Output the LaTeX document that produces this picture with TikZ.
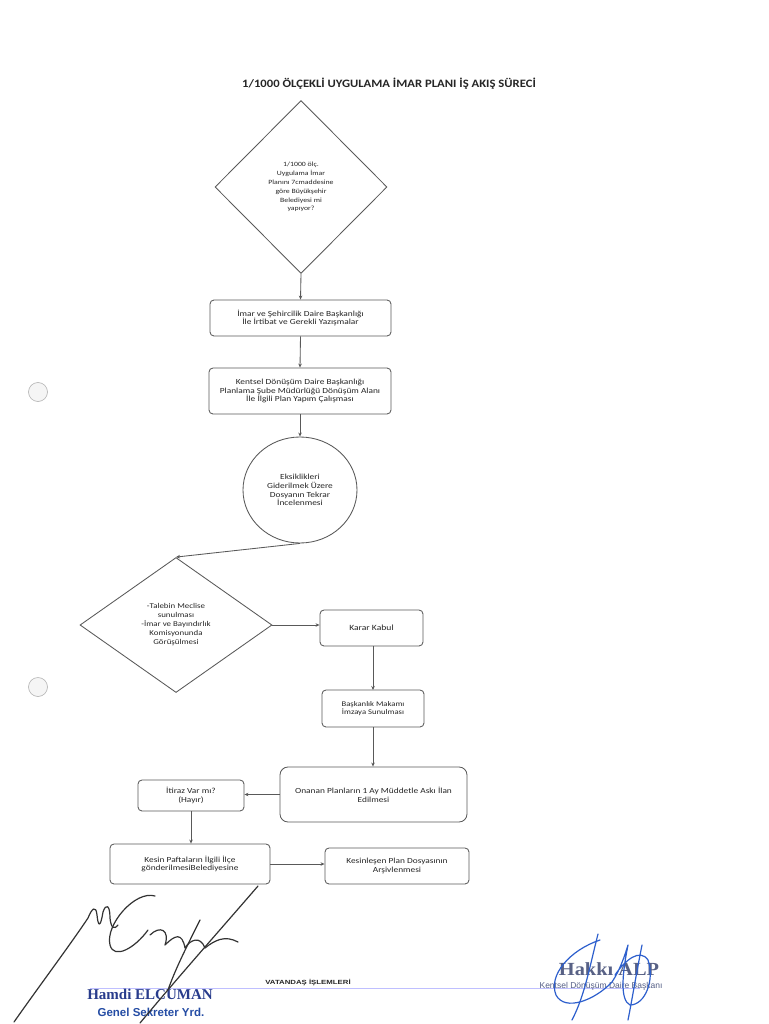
\documentclass[tikz,border=0pt]{standalone}
\usepackage{fontspec}
\setmainfont{Carlito}
\newfontfamily\wide[FakeStretch=1.2]{Carlito}
\newfontfamily\titlefont[FakeStretch=1.12]{Carlito}
\newfontfamily\serifname{Liberation Serif}
\newfontfamily\serifwide[FakeStretch=1.1]{Liberation Serif}
\newfontfamily\sansname{Liberation Sans}
\newfontfamily\sanswide[FakeStretch=1.3]{Liberation Sans}
\usetikzlibrary{shapes.geometric,arrows.meta}
\definecolor{ln}{gray}{0.35}
\definecolor{tx}{gray}{0.15}
\definecolor{navy}{RGB}{40,60,140}
\definecolor{sigblue}{RGB}{45,95,205}
\begin{document}
\begin{tikzpicture}[x=1pt,y=-1pt,
  every node/.style={text=tx},
  box/.style={draw=ln,line width=0.85pt,rounded corners=4pt,rectangle,align=center,inner sep=1pt,font=\wide\fontsize{7.8}{8.7}\selectfont},
  dia/.style={draw=ln,line width=0.85pt,diamond,align=center,inner sep=0pt,font=\wide\fontsize{6.5}{8.9}\selectfont},
  circ/.style={draw=ln,line width=0.85pt,ellipse,align=center,inner sep=0pt,font=\wide\fontsize{7.8}{8.7}\selectfont},
  arr/.style={draw=ln,line width=0.85pt,-{Stealth[length=4pt,width=3.5pt]}},
  sig/.style={line width=1.2pt,line cap=round,line join=round},
]
\useasboundingbox (0,0) rectangle (768,1024);
\fill[white] (0,0) rectangle (768,1024);
% punch holes
\draw[gray!60,fill=gray!8,line width=0.6pt] (38,392) circle (9.5);
\draw[gray!60,fill=gray!8,line width=0.6pt] (38,687) circle (9.5);

\node[font=\titlefont\bfseries\fontsize{11.3}{13}\selectfont] (title) at (389,84) {1/1000 ÖLÇEKLİ UYGULAMA İMAR PLANI İŞ AKIŞ SÜRECİ};

\node[dia,minimum width=172pt,minimum height=173pt] (d1) at (301,187)
  {1/1000 ölç.\\Uygulama İmar\\Planını 7cmaddesine\\göre Büyükşehir\\Belediyesi mi\\yapıyor?};
\node[box,minimum width=181pt,minimum height=36pt] (b1) at (300.5,318)
  {İmar ve Şehircilik Daire Başkanlığı\\İle İrtibat ve Gerekli Yazışmalar};
\node[box,minimum width=182pt,minimum height=46pt] (b2) at (300,391)
  {Kentsel Dönüşüm Daire Başkanlığı\\Planlama Şube Müdürlüğü Dönüşüm Alanı\\İle İlgili Plan Yapım Çalışması};
\node[circ,minimum width=114pt,minimum height=106pt] (c1) at (300,490)
  {Eksiklikleri\\Giderilmek Üzere\\Dosyanın Tekrar\\İncelenmesi};
\node[dia,minimum width=192pt,minimum height=135pt,font=\wide\fontsize{7.4}{9}\selectfont] (d2) at (176,625)
  {-Talebin Meclise\\sunulması\\-İmar ve Bayındırlık\\Komisyonunda\\Görüşülmesi};
\node[box,minimum width=103pt,minimum height=36pt,font=\wide\fontsize{8}{9}\selectfont] (kar) at (371.5,628) {Karar Kabul};
\node[box,minimum width=102pt,minimum height=37pt,font=\wide\fontsize{7.2}{8.7}\selectfont] (bas) at (373,708.5) {Başkanlık Makamı\\İmzaya Sunulması};
\node[box,rounded corners=8pt,minimum width=187pt,minimum height=55pt] (ona) at (373.5,794.5)
  {Onanan Planların 1 Ay Müddetle Askı İlan\\Edilmesi};
\node[box,minimum width=106pt,minimum height=31pt] (iti) at (191,795.5) {İtiraz Var mı?\\(Hayır)};
\node[box,minimum width=160pt,minimum height=40pt] (kes) at (190,864)
  {Kesin Paftaların İlgili İlçe\\gönderilmesiBelediyesine};
\node[box,minimum width=144pt,minimum height=36pt] (ksl) at (397,866)
  {Kesinleşen Plan Dosyasının\\Arşivlenmesi};

\draw[arr] (d1.south) -- (b1.north);
\draw[arr] (b1.south) -- (b2.north);
\draw[arr] (b2.south) -- (c1.north);
\draw[arr] (c1.south) -- (d2.north);
\draw[arr] (d2.east) -- (d2.east -| kar.west);
\draw[arr] (373,646) -- (373,690);
\draw[arr] (bas.south) -- (bas.south |- ona.north);
\draw[arr] (ona.west) -- (ona.west -| iti.east);
\draw[arr] (iti.south) -- (iti.south |- kes.north);
\draw[arr] (kes.east) -- (kes.east -| ksl.west);

% footer
\draw[blue!25,line width=0.5pt] (90,988) -- (640,988);
\node[font=\sanswide\bfseries\fontsize{6}{7}\selectfont] (foot) at (308,983) {VATANDAŞ İŞLEMLERİ};
\node[font=\serifname\bfseries\fontsize{15}{17}\selectfont,text=navy] (n1) at (150,994) {Hamdi ELCUMAN};
\node[font=\sansname\bfseries\fontsize{11.5}{13}\selectfont,text=sigblue!80!black] (t1) at (151,1012) {Genel Sekreter Yrd.};
\node[font=\serifwide\bfseries\fontsize{18.5}{20}\selectfont,text=gray!55!navy] (n2) at (609,969) {Hakkı ALP};
\node[font=\sansname\fontsize{8.5}{10}\selectfont,text=gray!50!navy] (t2) at (601,986) {Kentsel Dönüşüm Daire Başkanı};

% left signature
\draw[sig,black!80] (14,1022) .. controls (40,985) and (70,945) .. (88,918)
  .. controls (92,908) and (96,905) .. (97,915) .. controls (98,925) and (100,930) .. (103,912)
  .. controls (106,903) and (110,905) .. (110,918) .. controls (111,928) and (114,930) .. (118,925);
\draw[sig,black!80] (155,896) .. controls (135,890) and (105,925) .. (110,945)
  .. controls (114,960) and (135,948) .. (148,930);
\draw[sig,black!80] (258,886) .. controls (220,930) and (180,975) .. (140,1023);
\draw[sig,black!80] (150,935) .. controls (160,925) and (170,930) .. (165,945)
  .. controls (175,935) and (182,932) .. (185,948) .. controls (190,940) and (200,935) .. (205,948)
  .. controls (215,940) and (225,935) .. (238,942);
\draw[sig,black!80] (200,920) .. controls (185,950) and (175,970) .. (168,990);

% right signature
\draw[sig,sigblue] (598,934) .. controls (590,965) and (585,995) .. (572,1020);
\draw[sig,sigblue] (600,940) .. controls (570,950) and (548,975) .. (556,995)
  .. controls (565,1012) and (595,1000) .. (612,982) .. controls (620,970) and (625,955) .. (628,945)
  .. controls (622,975) and (620,1000) .. (630,1005) .. controls (645,1005) and (655,980) .. (648,960)
  .. controls (640,948) and (625,960) .. (615,975);
\draw[sig,sigblue] (642,945) .. controls (636,975) and (632,1000) .. (628,1020);
\end{tikzpicture}
\end{document}
